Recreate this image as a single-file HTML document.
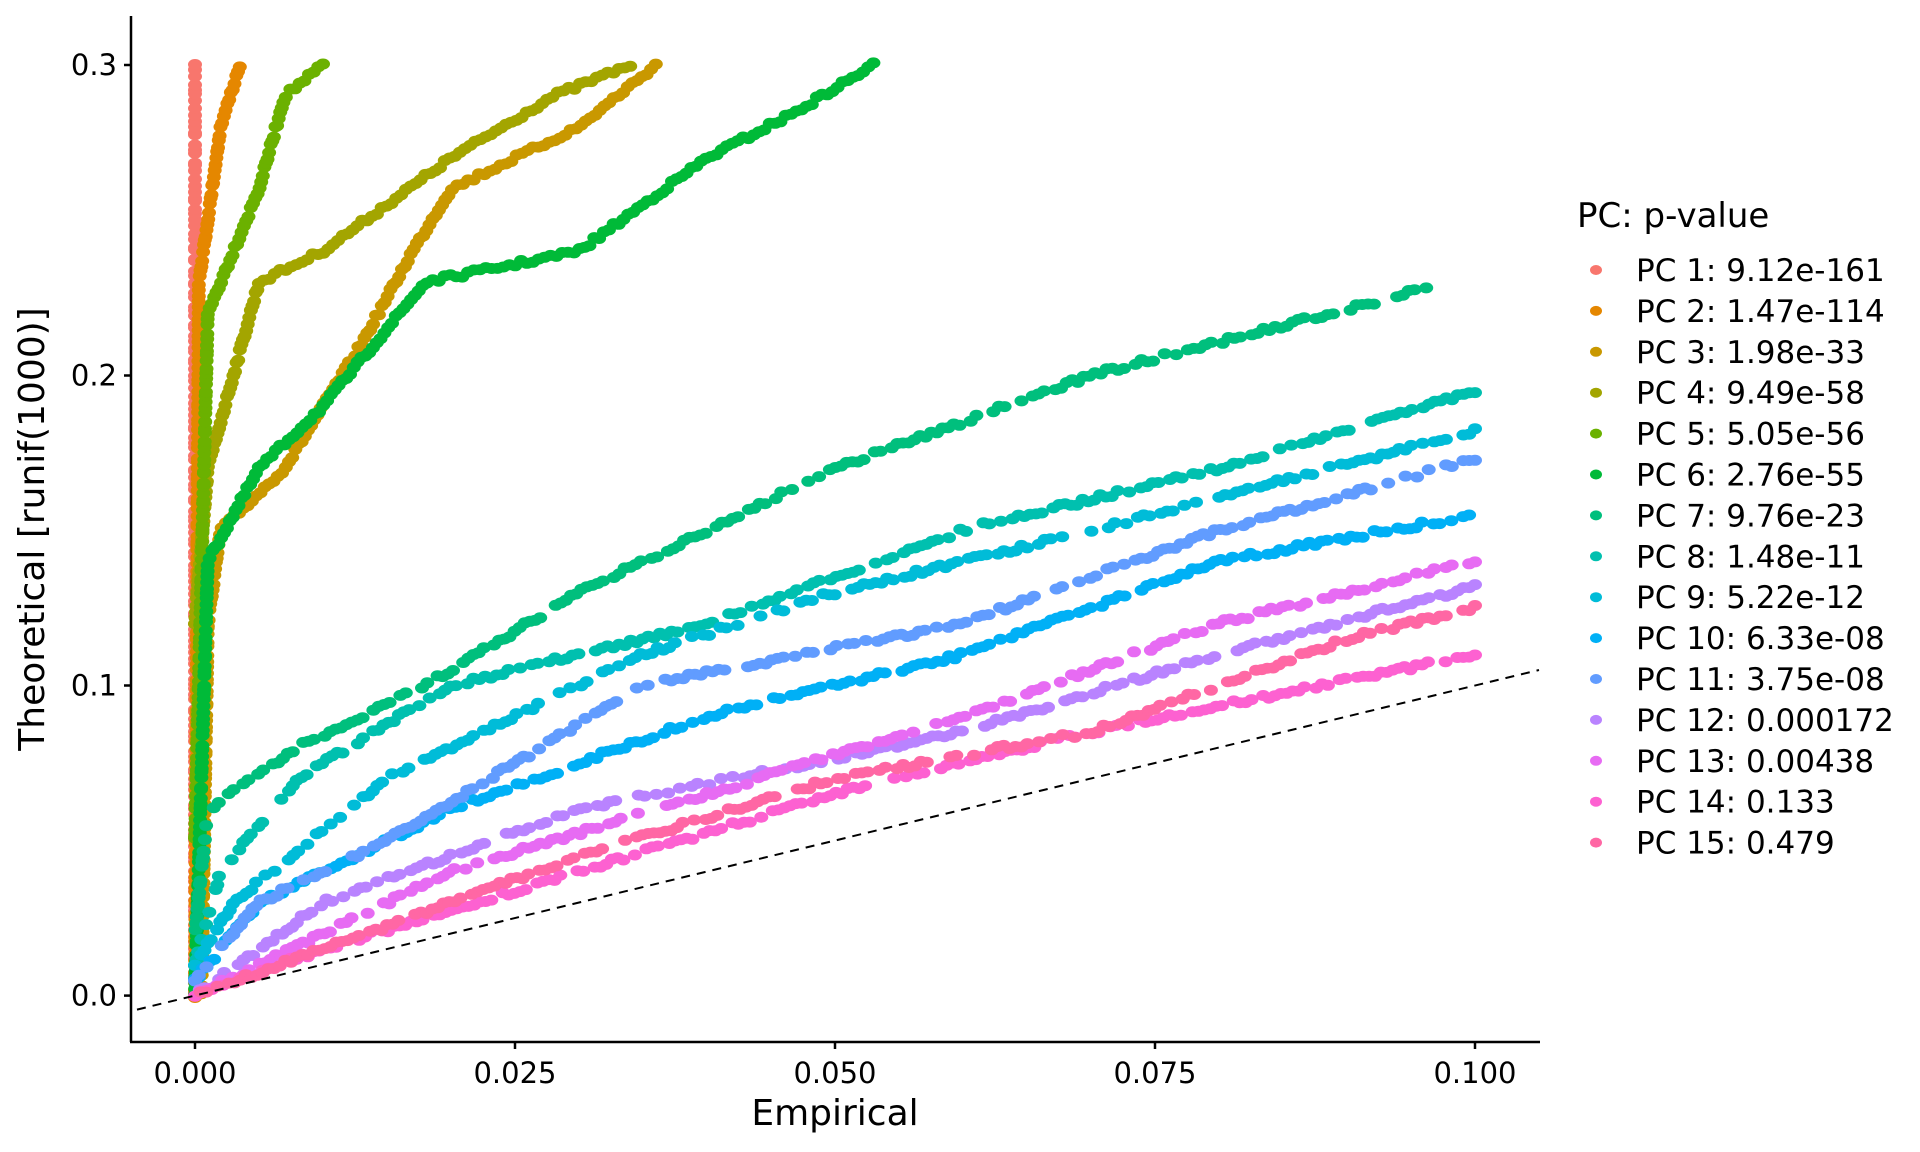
<!DOCTYPE html>
<html><head><meta charset="utf-8"><style>
html,body{margin:0;padding:0;background:#fff;}
svg{display:block;font-family:"DejaVu Sans","Liberation Sans",sans-serif;}
</style></head><body>
<svg id="s" width="1920" height="1152" viewBox="0 0 1920 1152" xmlns="http://www.w3.org/2000/svg">
<rect width="1920" height="1152" fill="#fff"/>
<g id="pts"></g>
<line x1="137" y1="1009.6" x2="1539" y2="670" stroke="#000" stroke-width="2" stroke-dasharray="9,7"/>
<line x1="131" y1="16" x2="131" y2="1042" stroke="#000" stroke-width="2.5"/>
<line x1="130" y1="1042" x2="1540" y2="1042" stroke="#000" stroke-width="2.5"/>
<g stroke="#000" stroke-width="2.5">
<line x1="124" y1="65" x2="131" y2="65"/><line x1="124" y1="375.5" x2="131" y2="375.5"/>
<line x1="124" y1="685.5" x2="131" y2="685.5"/><line x1="124" y1="995.6" x2="131" y2="995.6"/>
<line x1="195" y1="1042" x2="195" y2="1049"/><line x1="515" y1="1042" x2="515" y2="1049"/>
<line x1="835" y1="1042" x2="835" y2="1049"/><line x1="1155" y1="1042" x2="1155" y2="1049"/>
<line x1="1475" y1="1042" x2="1475" y2="1049"/>
</g>
<g font-size="29" fill="#000" text-anchor="end">
<text x="117" y="75">0.3</text><text x="117" y="385.5">0.2</text>
<text x="117" y="695.5">0.1</text><text x="117" y="1005.6">0.0</text>
</g>
<g font-size="29" fill="#000" text-anchor="middle">
<text x="195" y="1083">0.000</text><text x="515" y="1083">0.025</text>
<text x="835" y="1083">0.050</text><text x="1155" y="1083">0.075</text>
<text x="1475" y="1083">0.100</text>
</g>
<text x="835" y="1125" font-size="36" text-anchor="middle">Empirical</text>
<text transform="translate(44,529) rotate(-90)" font-size="36" text-anchor="middle">Theoretical [runif(1000)]</text>
<text x="1577" y="227" font-size="34">PC: p-value</text>
<g id="leg" font-size="31"></g>
</svg>
<script>
var cols=["#F8766D","#E58700","#C99800","#A3A500","#6BB100","#00BA38","#00BF7D","#00C0AF","#00BCD8","#00B0F6","#619CFF","#B983FF","#E76BF3","#FD61D1","#FF67A4"];
var labs=["PC 1: 9.12e-161","PC 2: 1.47e-114","PC 3: 1.98e-33","PC 4: 9.49e-58","PC 5: 5.05e-56","PC 6: 2.76e-55","PC 7: 9.76e-23","PC 8: 1.48e-11","PC 9: 5.22e-12","PC 10: 6.33e-08","PC 11: 3.75e-08","PC 12: 0.000172","PC 13: 0.00438","PC 14: 0.133","PC 15: 0.479"];
var C=[
[[0,0],[0,0.3]],
[[0,0],[0.0003,0.23],[0.001,0.25],[0.002,0.28],[0.0035,0.3]],
[[0.0005,0],[0.001,0.12],[0.002,0.15],[0.007,0.17],[0.013,0.21],[0.017,0.24],[0.02,0.26],[0.03,0.28],[0.036,0.3]],
[[0,0.12],[0.001,0.17],[0.003,0.2],[0.005,0.23],[0.01,0.24],[0.02,0.27],[0.028,0.29],[0.034,0.3]],
[[0,0.05],[0.001,0.22],[0.003,0.24],[0.005,0.26],[0.007,0.29],[0.01,0.3]],
[[0,0],[0.001,0.14],[0.005,0.17],[0.01,0.19],[0.018,0.23],[0.03,0.24],[0.04,0.27],[0.047,0.285],[0.053,0.3]],
[[0,0.02],[0.001,0.06],[0.008,0.08],[0.018,0.1],[0.03,0.13],[0.05,0.17],[0.07,0.2],[0.098,0.23]],
[[0,0.01],[0.002,0.04],[0.008,0.07],[0.02,0.1],[0.04,0.12],[0.06,0.15],[0.08,0.17],[0.1,0.195]],
[[0,0.01],[0.003,0.03],[0.015,0.07],[0.035,0.11],[0.05,0.13],[0.07,0.15],[0.1,0.182]],
[[0,0.005],[0.005,0.03],[0.02,0.06],[0.04,0.09],[0.06,0.11],[0.08,0.14],[0.1,0.155]],
[[0,0.005],[0.005,0.03],[0.015,0.05],[0.035,0.1],[0.06,0.12],[0.08,0.15],[0.1,0.173]],
[[0,0],[0.01,0.03],[0.03,0.06],[0.06,0.085],[0.08,0.11],[0.1,0.132]],
[[0,0],[0.01,0.02],[0.02,0.04],[0.04,0.065],[0.06,0.09],[0.08,0.12],[0.1,0.14]],
[[0,0],[0.01,0.015],[0.03,0.04],[0.05,0.065],[0.07,0.085],[0.1,0.11]],
[[0,0],[0.01,0.015],[0.03,0.045],[0.05,0.07],[0.07,0.085],[0.09,0.115],[0.1,0.125]]];
var seed=7;function r(){seed=(seed*16807)%2147483647;return seed/2147483647;}
function px(x){return 195+x*12800;}function py(y){return 995.6-y*3102;}
var h="";
for(var k=0;k<15;k++){
 var c=C[k],P=[],L=0;
 for(var i=0;i<c.length;i++){P.push([px(c[i][0]),py(c[i][1])]);if(i)L+=Math.hypot(P[i][0]-P[i-1][0],P[i][1]-P[i-1][1]);}
 var n=Math.max(40,Math.round(L/6));
 for(var j=0;j<=n;j++){
  if(k>5&&r()<0.25)continue;
  var t=j/n*L,a=0,x=P[0][0],y=P[0][1];
  for(var i=1;i<P.length;i++){var d=Math.hypot(P[i][0]-P[i-1][0],P[i][1]-P[i-1][1]);
   if(a+d>=t){var f=d?(t-a)/d:0;x=P[i-1][0]+f*(P[i][0]-P[i-1][0]);y=P[i-1][1]+f*(P[i][1]-P[i-1][1]);break;}a+=d;}
  y+=(r()-0.5)*5;
  h+='<ellipse cx="'+x.toFixed(1)+'" cy="'+y.toFixed(1)+'" rx="7" ry="5.5" fill="'+cols[k]+'"/>';
 }
}
document.getElementById("pts").innerHTML=h;
var g="";
for(var k=0;k<15;k++){var y=270+k*40.9;
 g+='<ellipse cx="1596" cy="'+y+'" rx="6" ry="5" fill="'+cols[k]+'"/><text x="1636" y="'+(y+11)+'">'+labs[k]+'</text>';}
document.getElementById("leg").innerHTML=g;
</script>
</body></html>
